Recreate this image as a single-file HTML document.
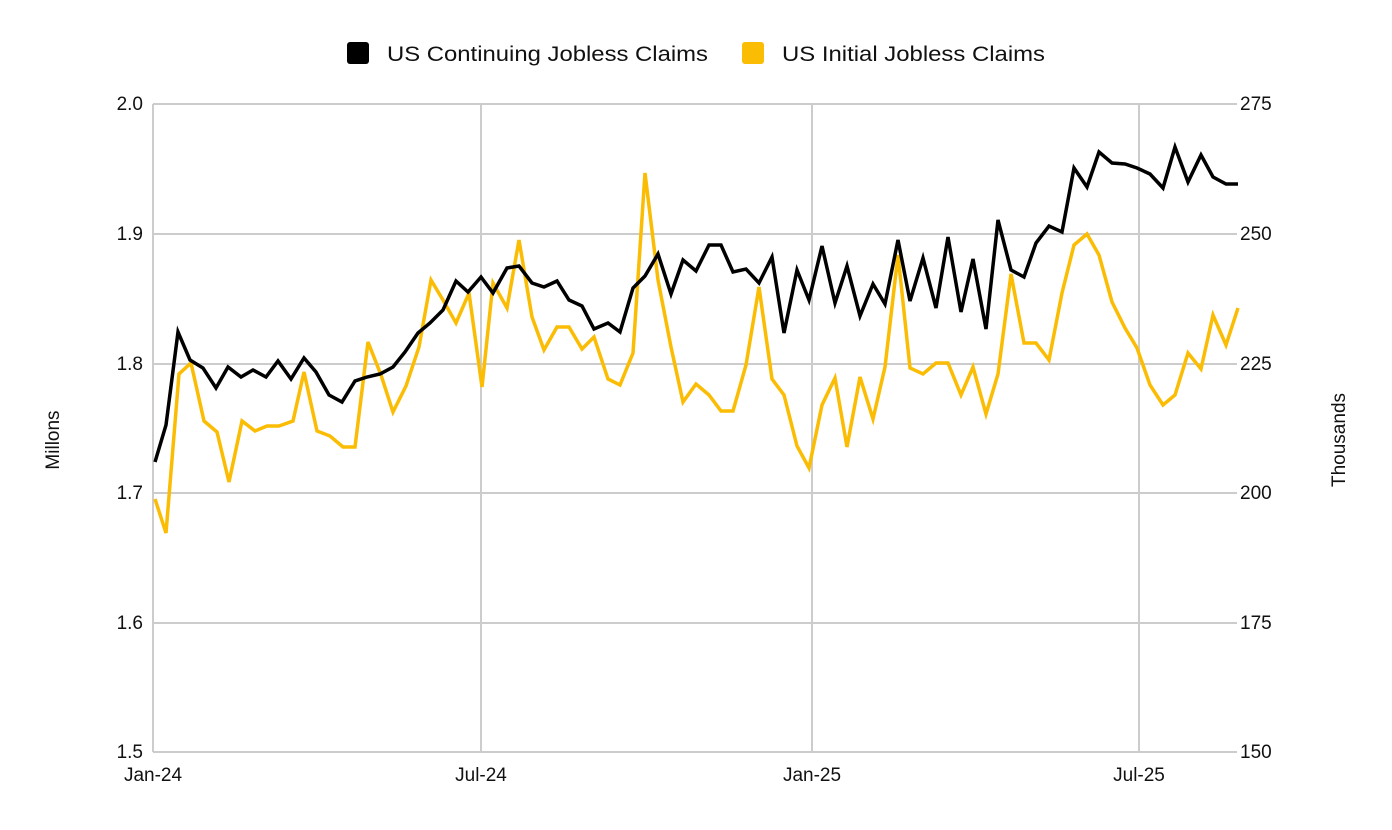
<!DOCTYPE html>
<html><head><meta charset="utf-8"><style>
body{margin:0;background:#fff}
svg{display:block;font-family:"Liberation Sans",Arial,sans-serif}
</style></head><body>
<svg width="1392" height="830" viewBox="0 0 1392 830">
<rect width="1392" height="830" fill="#fff"/>
<g stroke="#cccccc" stroke-width="2">
<line x1="153" y1="104" x2="1237" y2="104"/>
<line x1="153" y1="234" x2="1237" y2="234"/>
<line x1="153" y1="364" x2="1237" y2="364"/>
<line x1="153" y1="493" x2="1237" y2="493"/>
<line x1="153" y1="623" x2="1237" y2="623"/>
<line x1="153" y1="752" x2="1237" y2="752"/>
<line x1="153" y1="104" x2="153" y2="752"/>
<line x1="481" y1="104" x2="481" y2="752"/>
<line x1="812" y1="104" x2="812" y2="752"/>
<line x1="1139" y1="104" x2="1139" y2="752"/>
</g>
<g font-size="19" fill="#111" text-anchor="end">
<text x="143" y="110">2.0</text><text x="143" y="240">1.9</text><text x="143" y="370">1.8</text>
<text x="143" y="499">1.7</text><text x="143" y="629">1.6</text><text x="143" y="758">1.5</text>
</g>
<g font-size="19" fill="#111">
<text x="1240" y="110">275</text><text x="1240" y="240">250</text><text x="1240" y="370">225</text>
<text x="1240" y="499">200</text><text x="1240" y="629">175</text><text x="1240" y="758">150</text>
</g>
<g font-size="19" fill="#111" text-anchor="middle">
<text x="153" y="781">Jan-24</text><text x="481" y="781">Jul-24</text>
<text x="812" y="781">Jan-25</text><text x="1139" y="781">Jul-25</text>
</g>
<text transform="translate(59,440) rotate(-90)" font-size="19" fill="#111" text-anchor="middle">Millons</text>
<text transform="translate(1345,440) rotate(-90)" font-size="19" fill="#111" text-anchor="middle">Thousands</text>
<rect x="347" y="42" width="22" height="22" rx="3" fill="#000"/>
<text x="387" y="61" font-size="21" fill="#111" textLength="321" lengthAdjust="spacingAndGlyphs">US Continuing Jobless Claims</text>
<rect x="742" y="42" width="22" height="22" rx="3" fill="#fbbc04"/>
<text x="782" y="61" font-size="21" fill="#111" textLength="263" lengthAdjust="spacingAndGlyphs">US Initial Jobless Claims</text>
<polyline fill="none" stroke="#fbbc04" stroke-width="3.5" points="155,499 166,533 179,374 191,363 204,421 217,432 229,482 242,421 255,431 267,426 279,426 293,421 304,372 317,431 330,436 343,447 355,447 368,342 381,375 393,412 406,386 419,347 431,280 443,300 456,323 469,293 482,387 493,283 507,308 519,240 532,317 544,350 557,327 569,327 582,349 594,337 608,379 620,385 633,353 645,173 658,280 671,347 683,402 696,384 709,395 721,411 733,411 746,365 759,287 772,379 784,395 797,446 809,468 822,405 835,378 847,447 860,377 873,419 885,367 898,255 910,368 923,374 936,363 948,363 961,395 973,367 986,414 998,374 1011,274 1024,343 1036,343 1049,360 1062,293 1074,245 1087,234 1099,255 1112,302 1125,328 1137,348 1150,385 1163,405 1175,395 1188,353 1201,369 1213,315 1226,345 1238,308"/>
<polyline fill="none" stroke="#000" stroke-width="3.5" points="155,462 166,425 178,332 190,360 203,368 216,388 228,367 241,377 253,370 266,377 278,361 291,379 304,358 316,372 329,395 342,402 355,381 367,377 380,374 393,367 405,352 418,333 430,323 443,310 456,281 468,292 481,277 493,293 507,268 519,266 532,283 544,287 557,281 569,300 582,306 594,329 608,323 620,332 633,288 645,276 658,254 671,294 683,260 696,271 709,245 721,245 733,272 746,269 759,283 772,257 784,333 797,270 809,300 822,246 835,303 847,266 860,316 873,284 885,304 898,240 910,301 923,258 936,308 948,237 961,312 973,259 986,329 998,220 1011,270 1024,277 1036,243 1049,226 1062,232 1074,168 1087,187 1099,152 1112,163 1125,164 1137,168 1150,174 1163,188 1175,147 1188,182 1201,155 1213,177 1226,184 1238,184"/>
</svg>
</body></html>
